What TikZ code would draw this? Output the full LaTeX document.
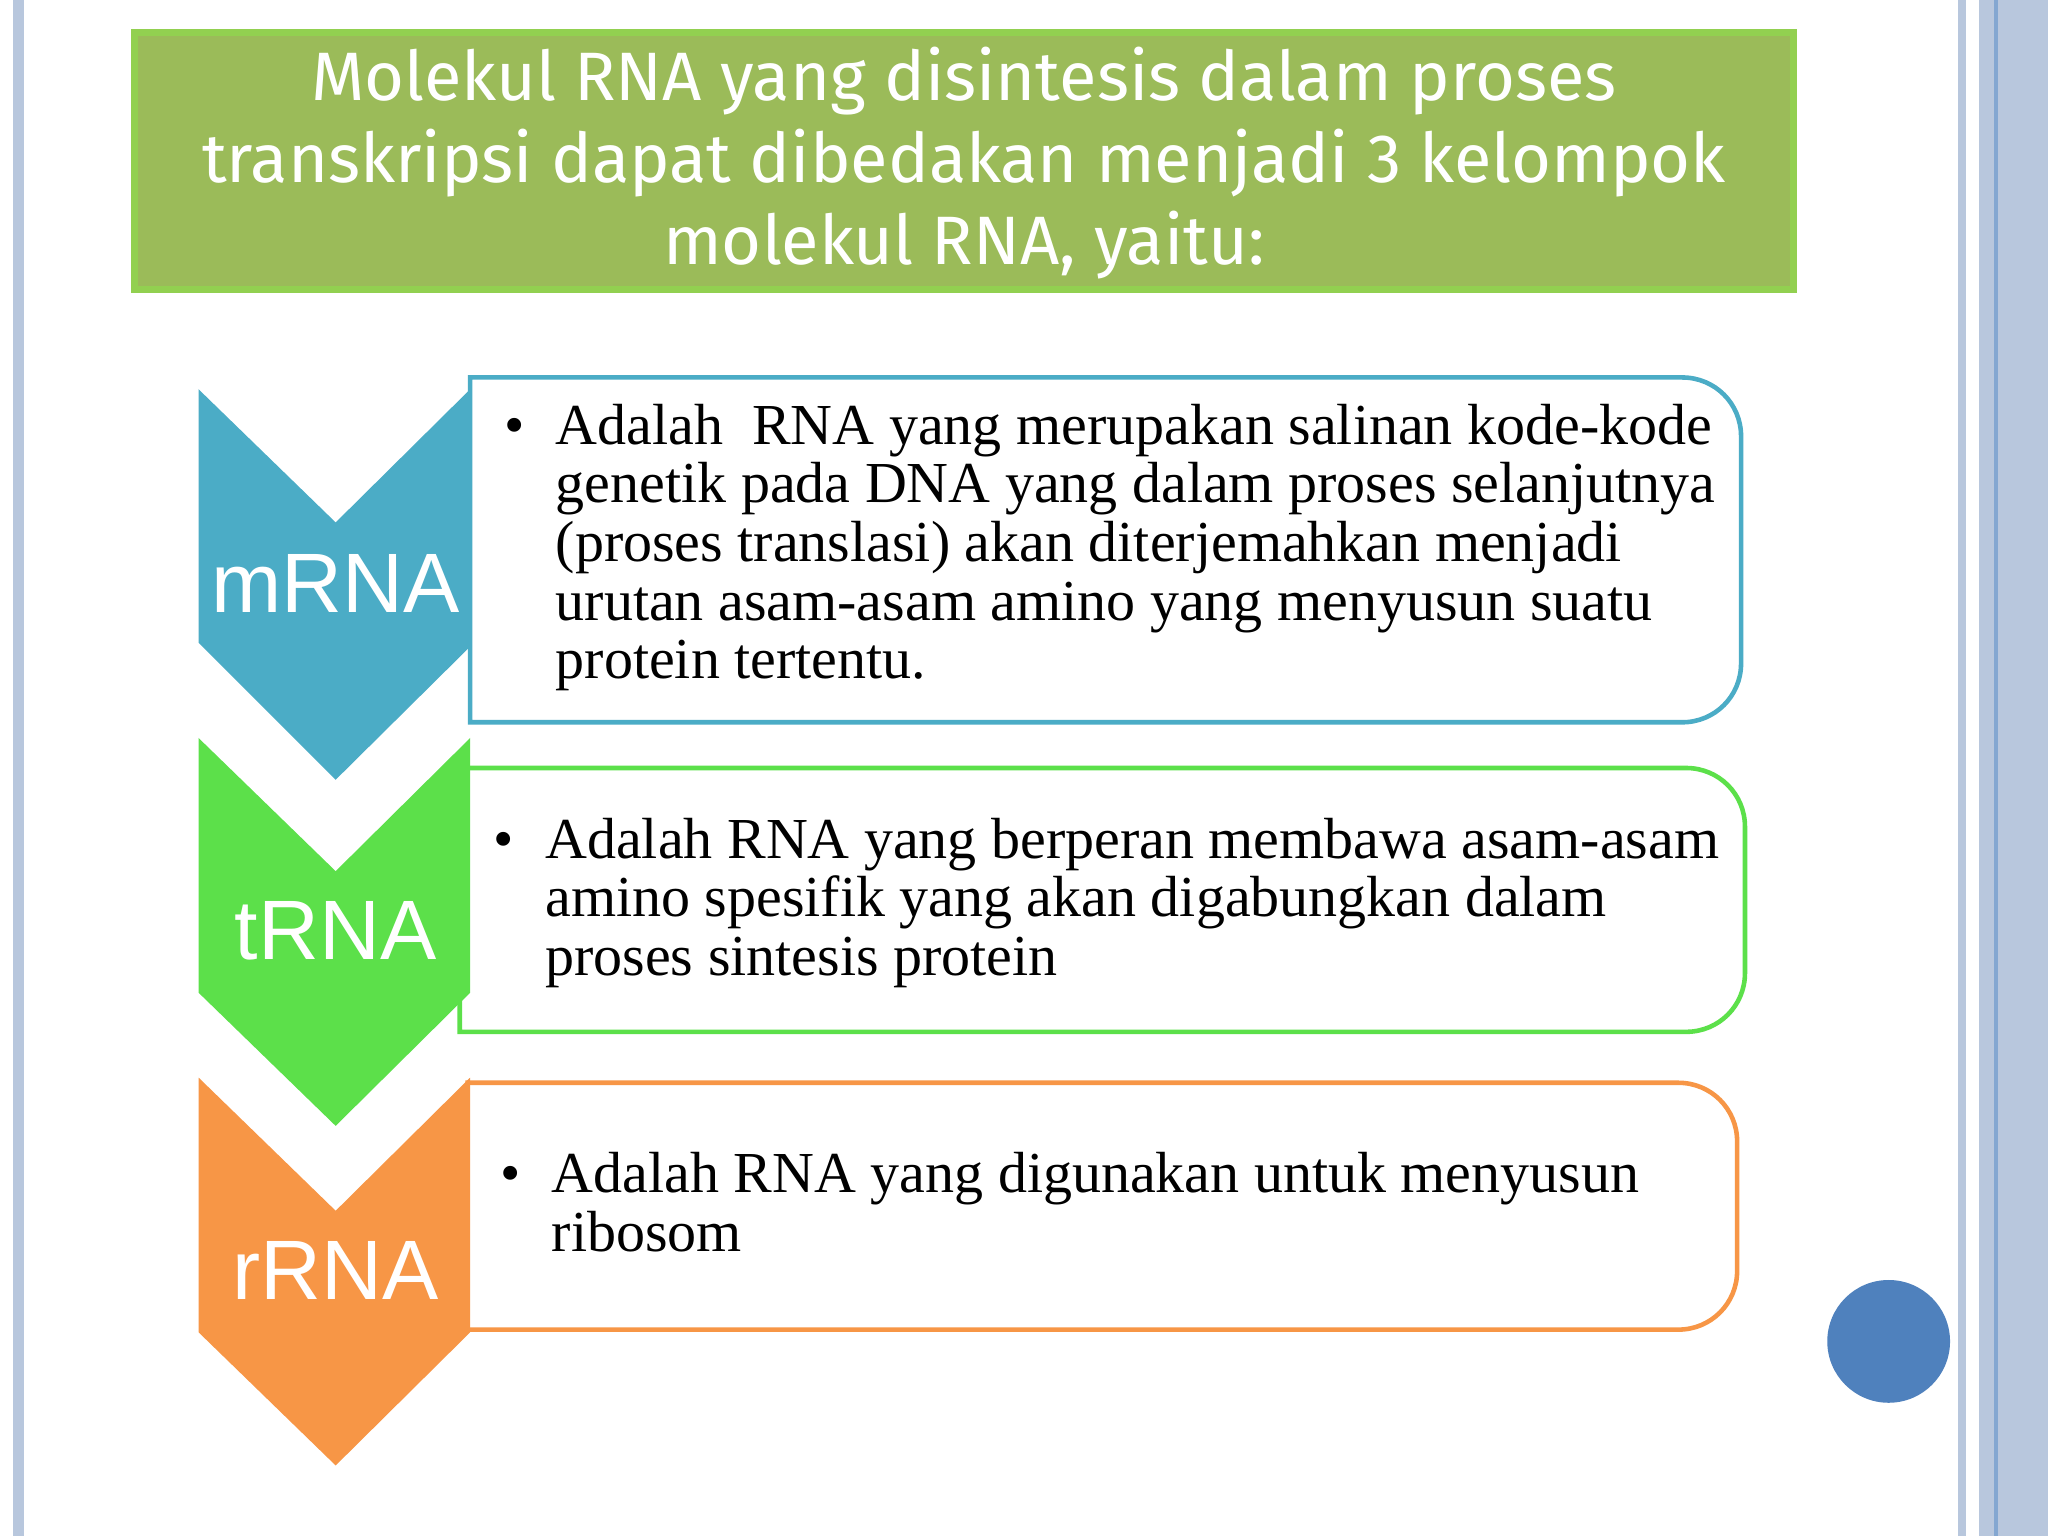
\documentclass[tikz,border=0pt]{standalone}
\usepackage{fontspec}
\setmainfont{Liberation Serif}
\newfontfamily\titlefont{Fira Sans}
\newfontfamily\labelfont{Liberation Sans}
\usetikzlibrary{positioning}
\definecolor{titlegreen}{HTML}{9BBB59}
\definecolor{titleedge}{HTML}{92D050}
\definecolor{mblue}{HTML}{4BACC6}
\definecolor{tgreen}{HTML}{5CE04A}
\definecolor{rorange}{HTML}{F79646}
\definecolor{dotblue}{HTML}{4F81BD}
\definecolor{framegray}{HTML}{B8C7DD}

\tikzset{
  namelabel/.style={text=white, font=\labelfont\fontsize{24}{28}\selectfont},
  infobox/.style={line width=1.3pt, fill=white},
  infotext/.style={anchor=base west, inner sep=0pt, align=left,
    font=\fontsize{16.5}{16.7}\selectfont},
}
% box with rounded right corners: left x, top y, right x, bottom y
\newcommand{\infoshape}[4]{(#1,#2) -- ({#3-45},#2) .. controls ({#3-20},#2) and (#3,{#2+20}) .. (#3,{#2+45})
  -- (#3,{#4-45}) .. controls (#3,{#4-20}) and ({#3-20},#4) .. ({#3-45},#4) -- (#1,#4) -- cycle}
\newcommand{\toplines}[1]{\parbox[t]{12cm}{\raggedright #1}}

\begin{document}
\begin{tikzpicture}[x=0.013061cm, y=-0.013061cm]
  \useasboundingbox (0,0) rectangle (1568,1176);
  \fill[white] (0,0) rectangle (1568,1176);

  % frame bars
  \fill[framegray] (10,0) rectangle (18,1176);
  \fill[framegray] (1499,0) rectangle (1505,1176);
  \fill[framegray] (1515,0) rectangle (1568,1176);
  \fill[dotblue!70] (1527,0) rectangle (1530,1176);

  % title
  \draw[titleedge, line width=2pt, fill=titlegreen] (103,25) rectangle (1373,222);
  \node (titletext) [text=white, align=center,
    font=\titlefont\fontsize{19.5}{23.4}\selectfont] at (738,125)
    {Molekul RNA yang disintesis dalam proses\\
     transkripsi dapat dibedakan menjadi 3 kelompok\\
     molekul RNA, yaitu:};

  % boxes
  \draw[infobox, draw=mblue] \infoshape{360}{289}{1333}{553};
  \draw[infobox, draw=tgreen] \infoshape{352}{588}{1336}{790};
  \draw[infobox, draw=rorange] \infoshape{358}{829}{1330}{1018};

  % chevrons
  \fill[mblue] (152,298) -- (257,400) -- (360,298) -- (360,495) -- (257,597) -- (152,492) -- cycle;
  \fill[tgreen] (152,565) -- (257,667) -- (360,565) -- (360,760) -- (257,862) -- (152,760) -- cycle;
  \fill[rorange] (152,825) -- (257,927) -- (360,825) -- (360,1020) -- (257,1122) -- (152,1020) -- cycle;

  \node (mrna) [namelabel] at (257,447) {mRNA};
  \node (trna) [namelabel] at (257,713) {tRNA};
  \node (rrna) [namelabel] at (257,973) {rRNA};

  % box texts
  \node (mbullet) [infotext] at (386,340) {\textbullet};
  \node (mtext) [infotext] at (425,340) {\toplines{%
     Adalah\ \ RNA yang merupakan salinan kode-kode\\
     genetik pada DNA yang dalam proses selanjutnya\\
     (proses translasi) akan diterjemahkan menjadi\\
     urutan asam-asam amino yang menyusun suatu\\
     protein tertentu.}};
  \node (tbullet) [infotext] at (377,657) {\textbullet};
  \node (ttext) [infotext] at (417,657) {\toplines{%
     Adalah RNA yang berperan membawa asam-asam\\
     amino spesifik yang akan digabungkan dalam\\
     proses sintesis protein}};
  \node (rbullet) [infotext] at (383,913) {\textbullet};
  \node (rtext) [infotext] at (422,913) {\toplines{%
     Adalah RNA yang digunakan untuk menyusun\\
     ribosom}};

  % dot
  \fill[dotblue] (1446,1027) circle[radius=47];
\end{tikzpicture}
\end{document}
